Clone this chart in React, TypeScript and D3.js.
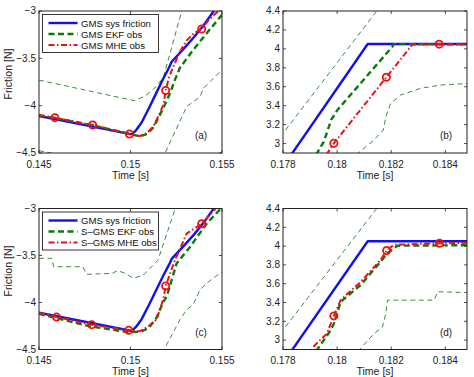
import React from "react";
import * as d3 from "d3";

type P = [number, number];

// ---------- Data: panels (a) and (c), time window 0.145–0.155 s ----------
const sysFrictionAC: P[] = [
  [0.145, -4.109], [0.150, -4.30], [0.1501, -4.297], [0.1503, -4.26], [0.1506, -4.18],
  [0.1510, -4.03], [0.1514, -3.87], [0.1518, -3.71], [0.1521, -3.60], [0.15225, -3.536],
  [0.1529, -3.40], [0.1535, -3.27], [0.1540, -3.15], [0.15455, -3.0], [0.1547, -2.96],
];
const ekfA: P[] = [
  [0.145, -4.10], [0.148, -4.21], [0.150, -4.30], [0.1505, -4.325], [0.1509, -4.30],
  [0.15125, -4.23], [0.1516, -4.10], [0.1519, -3.98], [0.15216, -3.87], [0.1524, -3.74],
  [0.1527, -3.60], [0.15343, -3.41], [0.15416, -3.236], [0.155, -3.04],
];
const mheA: P[] = [
  [0.145, -4.10], [0.14587, -4.127], [0.14793, -4.204], [0.14994, -4.30], [0.1502, -4.315],
  [0.1505, -4.32], [0.1509, -4.29], [0.15125, -4.22], [0.1516, -4.08], [0.1518, -3.99],
  [0.15192, -3.84], [0.1521, -3.70], [0.15234, -3.59], [0.1527, -3.43], [0.15307, -3.31],
  [0.1535, -3.23], [0.15389, -3.19], [0.1543, -3.09], [0.1548, -3.0], [0.1550, -2.97],
];
const mheMarkA: P[] = [
  [0.14587, -4.127], [0.14793, -4.204], [0.14994, -4.30], [0.15192, -3.84], [0.15389, -3.19],
];
const upperA: P[] = [
  [0.145, -3.73], [0.1502, -3.947], [0.1508, -3.90], [0.1514, -3.80], [0.1518, -3.70],
  [0.1528, -3.0], [0.1529, -2.95],
];
const lowerA: P[] = [
  [0.145, -4.476], [0.1465, -4.53], [0.1500, -4.68], [0.1515, -4.62], [0.15189, -4.5],
  [0.15307, -4.01], [0.1538, -3.905], [0.15398, -3.817], [0.155, -3.62],
];
const ekfC: P[] = [
  [0.145, -4.12], [0.14779, -4.254], [0.14997, -4.317], [0.15057, -4.31], [0.1510, -4.27],
  [0.1514, -4.17], [0.1518, -3.99], [0.15198, -3.937], [0.15252, -3.584], [0.15325, -3.409],
  [0.15416, -3.162], [0.155, -2.986],
];
const mheC: P[] = [
  [0.145, -4.11], [0.14596, -4.155], [0.14788, -4.236], [0.1499, -4.296], [0.1505, -4.307],
  [0.1510, -4.25], [0.15143, -4.18], [0.1518, -3.96], [0.15192, -3.824], [0.15243, -3.55],
  [0.15307, -3.267], [0.15389, -3.162], [0.1548, -2.97],
];
const mheMarkC: P[] = [
  [0.14596, -4.155], [0.14788, -4.236], [0.1499, -4.296], [0.15192, -3.824], [0.15389, -3.162],
];
const upperC: P[] = [
  [0.145, -3.53], [0.1457, -3.53], [0.1458, -3.62], [0.1474, -3.62], [0.1476, -3.70],
  [0.1490, -3.69], [0.1493, -3.66], [0.1497, -3.69], [0.15016, -3.743], [0.1507, -3.708],
  [0.1515, -3.55], [0.1525, -2.97],
];
const lowerC: P[] = [
  [0.1515, -4.62], [0.15189, -4.48], [0.15271, -4.18], [0.15307, -4.077], [0.15343, -4.02],
  [0.1538, -3.866], [0.15416, -3.795], [0.155, -3.673],
];

// ---------- Data: panels (b) and (d), time window 0.178–0.1848 s ----------
const sysFrictionBD: P[] = [[0.1783, 2.88], [0.18113, 4.052], [0.1849, 4.052]];
const ekfB: P[] = [
  [0.17922, 2.88], [0.17951, 3.02], [0.17978, 3.249], [0.18001, 3.354], [0.18204, 4.023],
  [0.1821, 4.05], [0.1849, 4.05],
];
const mheB: P[] = [
  [0.17960, 2.88], [0.17988, 3.003], [0.18182, 3.70], [0.18278, 4.045], [0.1849, 4.045],
];
const mheMarkB: P[] = [[0.17988, 3.003], [0.18182, 3.70], [0.18377, 4.05]];
const upperBD: P[] = [[0.1779, 3.07], [0.18149, 4.41], [0.1816, 4.45]];
const lowerB: P[] = [
  [0.18070, 2.88], [0.18136, 3.037], [0.18171, 3.143], [0.1818, 3.284], [0.18198, 3.425],
  [0.18235, 3.513], [0.18309, 3.584], [0.18383, 3.618], [0.1849, 3.636],
];
const ekfD: P[] = [
  [0.17922, 2.88], [0.17976, 3.104], [0.17988, 3.175], [0.18013, 3.407], [0.18087, 3.586],
  [0.18161, 3.836], [0.18186, 3.925], [0.18223, 4.004], [0.1849, 4.01],
];
const mheD: P[] = [
  [0.17912, 2.93], [0.17962, 3.068], [0.17988, 3.257], [0.18013, 3.425], [0.18087, 3.62],
  [0.18161, 3.853], [0.18183, 3.953], [0.18209, 4.014], [0.18378, 4.03], [0.1849, 4.035],
];
const mheMarkD: P[] = [[0.17988, 3.257], [0.18183, 3.953], [0.18378, 4.03]];
const lowerD: P[] = [
  [0.18076, 2.88], [0.18136, 3.067], [0.18167, 3.139], [0.1818, 3.282], [0.18186, 3.425],
  [0.18359, 3.425], [0.18371, 3.514], [0.1849, 3.505],
];

// ---------- Ticks ----------
const xTicksAC = [0.145, 0.15, 0.155];
const yTicksAC = [-3, -3.5, -4, -4.5];
const xTicksBD = [0.178, 0.18, 0.182, 0.184];
const yTicksBD = [3, 3.2, 3.4, 3.6, 3.8, 4, 4.2, 4.4];
const legendA = ["GMS sys friction", "GMS EKF obs", "GMS MHE obs"];
const legendC = ["GMS sys friction", "S\u2013GMS EKF obs", "S\u2013GMS MHE obs"];

const FONT = "'Liberation Sans', Arial, sans-serif";
const BLUE = "#1010f0";
const GREEN = "#0a7a0a";
const RED = "#f01010";
const THIN = "#3d8c3d";

type Box = { l: number; r: number; t: number; b: number };
type PanelProps = {
  id: string;
  box: Box;
  xDom: [number, number];
  yDom: [number, number];
  xTicks: number[];
  yTicks: number[];
  sys: P[];
  ekf: P[];
  mhe: P[];
  marks: P[];
  upper: P[];
  lower: P[];
  label: string;
  legend?: string[];
  yLabel?: boolean;
};

function Panel(p: PanelProps) {
  const { box } = p;
  const x = d3.scaleLinear().domain(p.xDom).range([box.l, box.r]);
  const y = d3.scaleLinear().domain(p.yDom).range([box.b, box.t]);
  const line = d3.line<P>().x((d) => x(d[0])).y((d) => y(d[1]));
  const clip = `clip-${p.id}`;
  const fmt = (v: number) => String(v);
  const legW = 116, legH = 38;
  const lx = box.l + 3.5, ly = box.t + 3.5;
  return (
    <g>
      <defs>
        <clipPath id={clip}>
          <rect x={box.l} y={box.t} width={box.r - box.l} height={box.b - box.t} />
        </clipPath>
      </defs>
      <rect x={box.l} y={box.t} width={box.r - box.l} height={box.b - box.t} fill="#fff" />
      <g clipPath={`url(#${clip})`} fill="none" strokeLinejoin="round">
        <path d={line(p.upper) || ""} stroke={THIN} strokeWidth={1} strokeDasharray="5,3.5" />
        <path d={line(p.lower) || ""} stroke={THIN} strokeWidth={1} strokeDasharray="5,3.5" />
        <path d={line(p.sys) || ""} stroke={BLUE} strokeWidth={2.4} />
        <path d={line(p.ekf) || ""} stroke={GREEN} strokeWidth={2.4} strokeDasharray="6,3.5" />
        <path d={line(p.mhe) || ""} stroke={RED} strokeWidth={2} strokeDasharray="6,2.5,1.5,2.5" />
        {p.marks.map((m, i) => (
          <circle key={i} cx={x(m[0])} cy={y(m[1])} r={3.6} stroke={RED} strokeWidth={1.8} fill="none" />
        ))}
      </g>
      {p.xTicks.map((t) => (
        <g key={"x" + t}>
          <line x1={x(t)} x2={x(t)} y1={box.b} y2={box.b - 3} stroke="#222" strokeWidth={0.8} />
          <line x1={x(t)} x2={x(t)} y1={box.t} y2={box.t + 3} stroke="#222" strokeWidth={0.8} />
          <text x={x(t)} y={box.b + 14.5} textAnchor="middle" fontSize={10} fontFamily={FONT} fill="#222">
            {fmt(t)}
          </text>
        </g>
      ))}
      {p.yTicks.map((t) => (
        <g key={"y" + t}>
          <line x1={box.l} x2={box.l + 3} y1={y(t)} y2={y(t)} stroke="#222" strokeWidth={0.8} />
          <line x1={box.r} x2={box.r - 3} y1={y(t)} y2={y(t)} stroke="#222" strokeWidth={0.8} />
          <text x={box.l - 3} y={y(t) + 3.3} textAnchor="end" fontSize={10} fontFamily={FONT} fill="#222">
            {fmt(t).replace("-", "\u2212")}
          </text>
        </g>
      ))}
      <rect x={box.l} y={box.t} width={box.r - box.l} height={box.b - box.t} fill="none" stroke="#222" strokeWidth={1} />
      <text x={(box.l + box.r) / 2} y={box.b + 25.5} textAnchor="middle" fontSize={10.5} fontFamily={FONT} fill="#222">
        Time [s]
      </text>
      {p.yLabel && (
        <text
          transform={`translate(${box.l - 27},${(box.t + box.b) / 2 - 8}) rotate(-90)`}
          textAnchor="middle"
          fontSize={10.5}
          fontFamily={FONT}
          fill="#222"
        >
          Friction [N]
        </text>
      )}
      <text x={box.r - 21} y={box.b - 14} textAnchor="middle" fontSize={10} fontFamily={FONT} fill="#222">
        {p.label}
      </text>
      {p.legend && (
        <g>
          <rect x={lx} y={ly} width={legW} height={legH} fill="#fff" stroke="#222" strokeWidth={0.9} />
          {p.legend.map((name, i) => {
            const yy = ly + 8.5 + i * 11;
            const stroke = i === 0 ? BLUE : i === 1 ? GREEN : RED;
            const dash = i === 0 ? undefined : i === 1 ? "6,3.5" : "6,2.5,1.5,2.5";
            return (
              <g key={name}>
                <line x1={lx + 6} x2={lx + 35} y1={yy} y2={yy} stroke={stroke} strokeWidth={i === 2 ? 2 : 2.4} strokeDasharray={dash} />
                <text x={lx + 38.5} y={yy + 3.5} fontSize={9.6} fontFamily={FONT} fill="#111">
                  {name}
                </text>
              </g>
            );
          })}
        </g>
      )}
    </g>
  );
}

export default function App() {
  const boxA: Box = { l: 39, r: 222, t: 11, b: 153 };
  const boxB: Box = { l: 283, r: 467, t: 11, b: 153 };
  const boxC: Box = { l: 39, r: 222, t: 208.5, b: 349.5 };
  const boxD: Box = { l: 283, r: 467, t: 208.5, b: 349.5 };
  return (
    <svg width={474} height={377} style={{ position: "absolute", left: 0, top: 0, background: "#fff" }}>
      <rect width={474} height={377} fill="#fff" />
      <Panel id="a" box={boxA} xDom={[0.145, 0.155]} yDom={[-4.5, -3]} xTicks={xTicksAC} yTicks={yTicksAC}
        sys={sysFrictionAC} ekf={ekfA} mhe={mheA} marks={mheMarkA} upper={upperA} lower={lowerA}
        label="(a)" legend={legendA} yLabel />
      <Panel id="b" box={boxB} xDom={[0.178, 0.1848]} yDom={[2.9, 4.4]} xTicks={xTicksBD} yTicks={yTicksBD}
        sys={sysFrictionBD} ekf={ekfB} mhe={mheB} marks={mheMarkB} upper={upperBD} lower={lowerB}
        label="(b)" />
      <Panel id="c" box={boxC} xDom={[0.145, 0.155]} yDom={[-4.5, -3]} xTicks={xTicksAC} yTicks={yTicksAC}
        sys={sysFrictionAC} ekf={ekfC} mhe={mheC} marks={mheMarkC} upper={upperC} lower={lowerC}
        label="(c)" legend={legendC} yLabel />
      <Panel id="d" box={boxD} xDom={[0.178, 0.1848]} yDom={[2.9, 4.4]} xTicks={xTicksBD} yTicks={yTicksBD}
        sys={sysFrictionBD} ekf={ekfD} mhe={mheD} marks={mheMarkD} upper={upperBD} lower={lowerD}
        label="(d)" />
    </svg>
  );
}
